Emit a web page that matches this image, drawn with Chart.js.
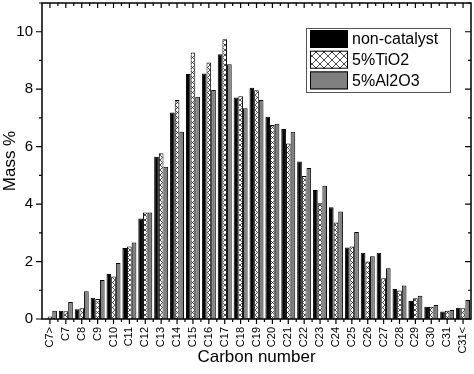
<!DOCTYPE html>
<html>
<head>
<meta charset="utf-8">
<script src="https://cdn.jsdelivr.net/npm/chart.js@4.4.1/dist/chart.umd.min.js"></script>
<style>
  body { margin: 0; background: #fff; }
  canvas { display: block; }
</style>
</head>
<body>
<canvas id="massChart" width="474" height="374"></canvas>
<script>
const categories = ['C7>', 'C7', 'C8', 'C9', 'C10', 'C11', 'C12', 'C13', 'C14', 'C15', 'C16', 'C17', 'C18', 'C19',
    'C20', 'C21', 'C22', 'C23', 'C24', 'C25', 'C26', 'C27', 'C28', 'C29', 'C30', 'C31', 'C31<'];
const nonCatalyst = [0, 0.29, 0.34, 0.74, 1.57, 2.47, 3.50, 5.65, 7.19, 8.53, 8.55, 9.22, 7.71, 8.05,
    7.04, 6.61, 5.48, 4.49, 3.89, 2.49, 2.31, 2.31, 1.04, 0.63, 0.43, 0.26, 0.39];
const tio2 = [0.09, 0.27, 0.37, 0.70, 1.48, 2.52, 3.71, 5.77, 7.62, 9.28, 8.93, 9.74, 7.75, 7.96,
    6.75, 6.11, 4.98, 4.03, 3.36, 2.52, 2.00, 1.42, 0.99, 0.72, 0.43, 0.29, 0.37];
const al2o3 = [0.29, 0.59, 0.97, 1.36, 1.95, 2.66, 3.71, 5.30, 6.52, 7.74, 7.97, 8.87, 7.34, 7.62,
    6.80, 6.52, 5.26, 4.64, 3.74, 3.03, 2.18, 1.77, 1.17, 0.81, 0.49, 0.31, 0.66];
const seriesNames = ['non-catalyst', '5%TiO2', '5%Al2O3'];
const yTicks = [0, 2, 4, 6, 8, 10];

const FONT = '"Liberation Sans", Arial, sans-serif';

// cross-hatch fill for the TiO2 bars
function makeHatch(size) {
    const c = document.createElement('canvas');
    c.width = size;
    c.height = size;
    const g = c.getContext('2d');
    g.fillStyle = '#fff';
    g.fillRect(0, 0, size, size);
    g.strokeStyle = '#222';
    g.lineWidth = 0.8;
    g.beginPath();
    g.moveTo(0, 0); g.lineTo(size, size);
    g.moveTo(size, 0); g.lineTo(0, size);
    g.stroke();
    return c;
}
const ctx = document.getElementById('massChart').getContext('2d');
const hatch = ctx.createPattern(makeHatch(5), 'repeat');
const legendHatch = ctx.createPattern(makeHatch(8), 'repeat');

const fills = ['#000000', hatch, '#808080'];

// box, ticks and legend drawn on top
const framePlugin = {
    id: 'frame',
    afterDraw(chart) {
        const c = chart.ctx;
        const a = chart.chartArea;
        const x = chart.scales.x;
        const y = chart.scales.y;
        c.save();
        c.strokeStyle = '#000';
        c.lineWidth = 1.5;
        c.strokeRect(a.left, a.top, a.right - a.left, a.bottom - a.top);

        c.lineWidth = 1.2;
        c.beginPath();
        for (let v = 0; v <= 11; v++) {
            const py = y.getPixelForValue(v);
            const len = v % 2 === 0 ? 6 : 3;
            c.moveTo(a.left, py); c.lineTo(a.left - len, py);
            c.moveTo(a.right, py); c.lineTo(a.right - len, py);
        }
        const step = (a.right - a.left) / categories.length;
        for (let i = 0; i < categories.length; i++) {
            const px = x.getPixelForTick(i);
            c.moveTo(px, a.bottom); c.lineTo(px, a.bottom + 5);
            c.moveTo(px, a.top); c.lineTo(px, a.top + 5);
            if (i > 0) {
                const bx = px - step / 2;
                c.moveTo(bx, a.bottom); c.lineTo(bx, a.bottom + 3);
                c.moveTo(bx, a.top); c.lineTo(bx, a.top + 3);
            }
        }
        c.stroke();

        // legend
        const lx = 306, ly = 28, lw = 144, lh = 64;
        c.fillStyle = '#fff';
        c.fillRect(lx, ly, lw, lh);
        c.lineWidth = 1;
        c.strokeStyle = '#555';
        c.strokeRect(lx + 0.5, ly + 0.5, lw, lh);
        const legendFills = ['#000000', legendHatch, '#808080'];
        c.font = '16px ' + FONT;
        c.textBaseline = 'middle';
        c.textAlign = 'left';
        seriesNames.forEach((name, i) => {
            const ry = ly + 2 + i * 20.7;
            c.fillStyle = legendFills[i];
            c.fillRect(lx + 4, ry, 38, 18);
            c.strokeStyle = '#000';
            c.strokeRect(lx + 4.5, ry + 0.5, 37, 17);
            c.fillStyle = '#000';
            c.fillText(name, lx + 46, ry + 10);
        });
        c.restore();
    }
};

new Chart(ctx, {
    type: 'bar',
    data: {
        labels: categories,
        datasets: [nonCatalyst, tio2, al2o3].map((d, i) => ({
            label: seriesNames[i],
            data: d,
            backgroundColor: fills[i],
            borderColor: '#000',
            borderWidth: 1,
            categoryPercentage: 0.88,
            barPercentage: 1.0,
        })),
    },
    options: {
        responsive: false,
        animation: false,
        layout: { padding: { top: 3, right: 3, left: 0, bottom: 0 } },
        plugins: {
            legend: { display: false },
            tooltip: { enabled: false },
        },
        scales: {
            x: {
                grid: { display: false, drawTicks: false },
                border: { display: false },
                ticks: {
                    color: '#000',
                    font: { family: FONT, size: 11 },
                    minRotation: 90,
                    maxRotation: 90,
                    autoSkip: false,
                    padding: 8,
                },
                title: {
                    display: true,
                    text: 'Carbon number',
                    color: '#000',
                    font: { family: FONT, size: 17 },
                    padding: { top: 0, bottom: 6 },
                },
                afterFit(scale) {
                    scale.height = 55;
                    scale.paddingLeft = 0;
                    scale.paddingRight = 0;
                },
            },
            y: {
                min: 0,
                max: 11,
                grid: { display: false, drawTicks: false },
                border: { display: false },
                afterBuildTicks(scale) {
                    scale.ticks = yTicks.map(v => ({ value: v }));
                },
                ticks: {
                    color: '#000',
                    font: { family: FONT, size: 15 },
                    padding: 9,
                },
                title: {
                    display: true,
                    text: 'Mass %',
                    color: '#000',
                    font: { family: FONT, size: 17 },
                    padding: { top: 0, bottom: 0 },
                },
                afterFit(scale) {
                    scale.width = 42;
                    scale.paddingTop = 0;
                    scale.paddingBottom = 0;
                },
            },
        },
    },
    plugins: [framePlugin],
});
</script>
</body>
</html>
